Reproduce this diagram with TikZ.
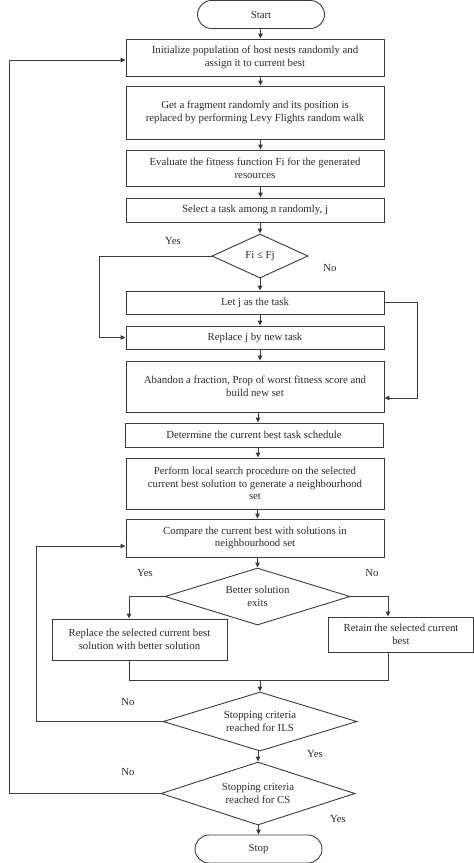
\documentclass[tikz,border=0pt]{standalone}
\usepackage{fontspec}
\setmainfont{Liberation Serif}
\usetikzlibrary{shapes.geometric,shapes.misc,arrows.meta}
\definecolor{linec}{HTML}{3A3A3A}
\definecolor{textc}{HTML}{2A2A2A}
\begin{document}
\begin{tikzpicture}[x=1pt,y=-1pt,
  base/.style={draw=linec, line width=0.9pt, align=center, text=textc, inner sep=1pt,
    font=\fontsize{10.8}{12.7}\selectfont},
  box/.style={base, rectangle, minimum width=258pt},
  term/.style={base, rounded rectangle, minimum width=129pt, minimum height=28pt},
  dec/.style={base, diamond, inner sep=0pt},
  lab/.style={text=textc, font=\fontsize{10.8}{12}\selectfont, inner sep=0pt},
  arr/.style={draw=linec, line width=0.9pt, -{Triangle[length=5pt,width=4.5pt]}},
  ln/.style={draw=linec, line width=0.9pt}]
\useasboundingbox (0,0) rectangle (474,863);

\node[term] (start) at (261,14.5) {Start};
\node[box, minimum height=37pt] (b1) at (255,57.5) {Initialize population of host nests randomly and\\assign it to current best};
\node[box, minimum height=53pt] (b2) at (255,112.5) {Get a fragment randomly and its position is\\replaced by performing Levy Flights random walk};
\node[box, minimum height=36pt] (b3) at (255,168) {Evaluate the fitness function Fi for the generated\\resources};
\node[box, minimum height=24pt] (b4) at (255,210) {Select a task among n randomly, j};
\node[dec, shape aspect=2.18, minimum width=96pt, minimum height=44pt] (d1) at (260,256) {Fi ≤ Fj};
\node[box, minimum height=23pt] (b5) at (255,302.5) {Let j as the task};
\node[box, minimum height=23pt] (b6) at (255,337.5) {Replace j by new task};
\node[box, minimum height=51pt] (b7) at (255,386.5) {Abandon a fraction, Prop of worst fitness score and\\build new set};
\node[box, minimum height=24pt] (b8) at (254,435) {Determine the current best task schedule};
\node[box, minimum height=51pt] (b9) at (255,483.5) {Perform local search procedure on the selected\\current best solution to generate a neighbourhood\\set};
\node[box, minimum height=38pt] (b10) at (255,538) {Compare the current best with solutions in\\neighbourhood set};
\node[dec, shape aspect=3.25, minimum width=185pt, minimum height=57pt] (d2) at (257.5,596.5) {Better solution\\exits};
\node[box, minimum width=175pt, minimum height=41pt] (lb) at (139.5,639.5) {Replace the selected current best\\solution with better solution};
\node[box, minimum width=145pt, minimum height=35pt] (rb) at (401,634.5) {Retain the selected current\\best};
\node[dec, shape aspect=3.29, minimum width=194pt, minimum height=59pt] (d3) at (260,721.5) {Stopping criteria\\reached for ILS};
\node[dec, shape aspect=3.08, minimum width=194pt, minimum height=63pt] (d4) at (258,793.5) {Stopping criteria\\reached for CS};
\node[term] (stop) at (258.5,849) {Stop};

% labels
\node[lab] (l1) at (173,241) {Yes};
\node[lab] (l2) at (330,268) {No};
\node[lab] (l3) at (145,573) {Yes};
\node[lab] (l4) at (372,573) {No};
\node[lab] (l5) at (128,702) {No};
\node[lab] (l6) at (315,754) {Yes};
\node[lab] (l7) at (128,772) {No};
\node[lab] (l8) at (338,819) {Yes};

% main chain
\coordinate (ax) at (260.5,0);
\coordinate (bx) at (258,0);
\draw[arr] (start.south -| ax) -- (b1.north -| ax);
\draw[arr] (b1.south -| ax) -- (b2.north -| ax);
\draw[arr] (b2.south -| ax) -- (b3.north -| ax);
\draw[arr] (b3.south -| ax) -- (b4.north -| ax);
\draw[arr] (b4.south -| d1.north) -- (d1.north);
\draw[arr] (d1.south) -- (b5.north -| d1.south);
\draw[arr] (b5.south -| d1.south) -- (b6.north -| d1.south);
\draw[arr] (b6.south -| d1.south) -- (b7.north -| d1.south);
\draw[arr] (b7.south -| bx) -- (b8.north -| bx);
\draw[arr] (b8.south -| bx) -- (b9.north -| bx);
\draw[arr] (b9.south -| d2.north) -- (b10.north -| d2.north);
\draw[arr] (b10.south -| d2.north) -- (d2.north);

% Fi <= Fj yes branch
\coordinate (yx) at (99,0);
\draw[arr] (d1.west) -- (yx |- d1.west) |- (b6.west);
% No branch from Let j
\coordinate (nx) at (417,398);
\draw[arr] (b5.east) -- (nx |- b5.east) -- (nx) -- (b7.east |- nx);

% better solution branches
\coordinate (la) at (129,0);
\coordinate (ra) at (388,680);
\draw[arr] (d2.west) -| (la |- lb.north);
\draw[arr] (d2.east) -| (ra |- rb.north);
\draw[ln] (la |- lb.south) -- (la |- ra) -- (ra) -- (ra |- rb.south);
\draw[arr] (d3.north |- ra) -- (d3.north);

% ILS no loop
\coordinate (ilx) at (36,546);
\draw[arr] (d3.west) -- (ilx |- d3.west) -- (ilx) -- (b10.west |- ilx);
% CS no loop
\coordinate (csx) at (9,60);
\draw[arr] (d4.west) -- (csx |- d4.west) -- (csx) -- (b1.west |- csx);

\draw[arr] (d3.south -| d4.north) -- (d4.north);
\draw[arr] (d4.south -| stop.north) -- (stop.north);
\end{tikzpicture}
\end{document}
